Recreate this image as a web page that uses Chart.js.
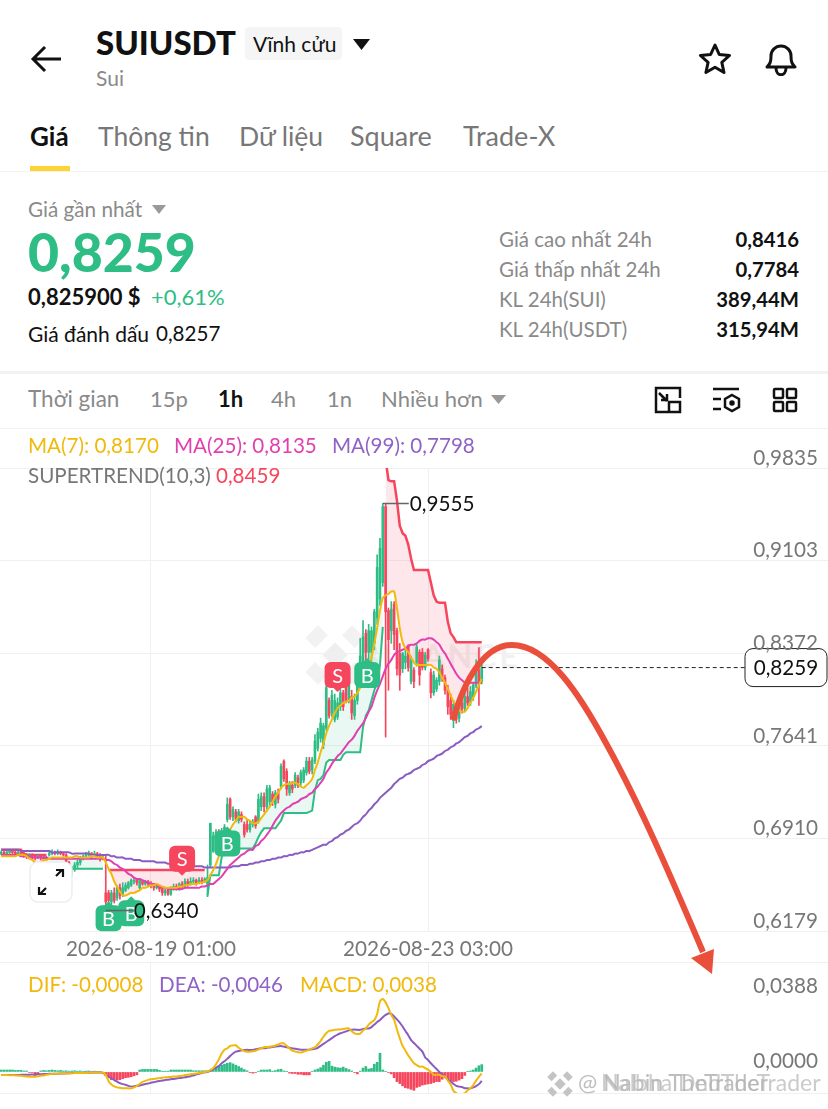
<!DOCTYPE html>
<html lang="vi">
<head>
<meta charset="utf-8">
<title>SUIUSDT</title>
<script src="https://cdn.jsdelivr.net/npm/chart.js@4"></script>
<style>
html, body { margin: 0; padding: 0; background: #fff; }
body { position: relative; width: 828px; height: 1109px; overflow: hidden; font-family: Lato, "Noto Sans", sans-serif; color: #111; }
.t { position: absolute; white-space: nowrap; line-height: 1; transform: translateY(-54%); }
.g { color: #8a8a8a; }
.r { right: 29px; font-weight: 700; font-size: 20.300px; color: #111; }
.line { position: absolute; left: 0; width: 828px; background: #f2f2f2; }
canvas { position: absolute; left: 0; }
svg { position: absolute; }
</style>
</head>
<body>

<!-- watermark under the chart -->
<svg style="left:300px;top:620px" width="70" height="70"><g fill="#efefef" transform="rotate(45 35 35)"><rect x="26" y="26" width="18" height="18"/><rect x="2" y="26" width="14" height="18" opacity=".8"/><rect x="54" y="26" width="14" height="18" opacity=".8"/><rect x="26" y="2" width="18" height="14" opacity=".8"/><rect x="26" y="54" width="18" height="14" opacity=".8"/></g></svg>
<div class="t" style="left:358px;top:657px;font-size:32px;font-weight:700;color:#f1f1f1;letter-spacing:3px">BINANCE</div>

<canvas id="priceChart" width="828" height="530" style="top:440px"></canvas>
<canvas id="macdChart" width="828" height="137" style="top:959px"></canvas>

<!-- header -->
<svg style="left:30px;top:44px" width="34" height="30" fill="none" stroke="#111" stroke-width="3"><path d="M31 15H4M15 3L3 15l12 12"/></svg>
<div class="t" style="left:96px;top:44px;font-size:33px;font-weight:900">SUIUSDT</div>
<div style="position:absolute;left:245px;top:27px;width:97px;height:33px;background:#f5f5f5;border-radius:4px"></div>
<div class="t" style="left:253px;top:44px;font-size:21px">Vĩnh cửu</div>
<svg style="left:352px;top:38px" width="20" height="13"><path d="M1 1h17l-8.500 11z" fill="#111"/></svg>
<div class="t g" style="left:96px;top:78px;font-size:21px">Sui</div>
<svg style="left:698px;top:42px" width="34" height="34" fill="none" stroke="#111" stroke-width="3" stroke-linejoin="round"><path d="M17 3l4.200 9.400 10.300 1.100-7.700 6.900 2.200 10.100L17 25.300 7.900 30.500l2.200-10.100-7.700-6.900 10.300-1.100z"/></svg>
<svg style="left:764px;top:42px" width="34" height="34" fill="none" stroke="#111" stroke-width="3" stroke-linejoin="round"><path d="M3 25c3-3 4-5 4-11a10 10 0 0 1 20 0c0 6 1 8 4 11zM12 26c0 9 10 9 10 0"/></svg>

<div class="t" style="left:30px;top:137px;font-size:26px;font-weight:700">Giá</div>
<div class="t g" style="left:98px;top:137px;font-size:26.500px;color:#777">Thông tin</div>
<div class="t g" style="left:239px;top:137px;font-size:26.500px;color:#777">Dữ liệu</div>
<div class="t g" style="left:350px;top:137px;font-size:27px;color:#777">Square</div>
<div class="t g" style="left:463px;top:137px;font-size:27px;color:#777">Trade-X</div>
<div style="position:absolute;left:30px;top:166px;width:40px;height:5px;background:#fcd535"></div>
<div class="line" style="top:171px;height:1px"></div>

<!-- price block -->
<div class="t g" style="left:28px;top:210px;font-size:20.700px">Giá gần nhất</div>
<svg style="left:152px;top:205px" width="14" height="10"><path d="M0 0h14l-7 9z" fill="#999"/></svg>
<div class="t" style="left:28px;top:254px;font-size:53.500px;font-weight:900;color:#2ebd85">0,8259</div>
<div class="t" style="left:28px;top:298px;font-size:22px;font-weight:700">0,825900 $</div>
<div class="t" style="left:151px;top:298px;font-size:22px;color:#2ebd85">+0,61%</div>
<div class="t" style="left:28px;top:334px;font-size:21px">Giá đánh dấu</div>
<div class="t" style="left:156px;top:334px;font-size:20.600px">0,8257</div>
<div class="t g" style="left:499px;top:240px;font-size:20.500px">Giá cao nhất 24h</div>
<div class="t g" style="left:499px;top:270px;font-size:20.500px">Giá thấp nhất 24h</div>
<div class="t g" style="left:499px;top:300px;font-size:20.500px">KL 24h(SUI)</div>
<div class="t g" style="left:499px;top:330px;font-size:20.500px">KL 24h(USDT)</div>
<div class="t r" style="top:240px">0,8416</div>
<div class="t r" style="top:270px">0,7784</div>
<div class="t r" style="top:300px">389,44M</div>
<div class="t r" style="top:330px">315,94M</div>
<div class="line" style="top:371px;height:3px"></div>

<!-- interval row -->
<div class="t g" style="left:28px;top:400px;font-size:22.500px">Thời gian</div>
<div class="t g" style="left:150px;top:400px;font-size:22px">15p</div>
<div class="t" style="left:218px;top:400px;font-size:22px;font-weight:700">1h</div>
<div class="t g" style="left:271px;top:400px;font-size:22px">4h</div>
<div class="t g" style="left:327px;top:400px;font-size:22px">1n</div>
<div class="t g" style="left:381px;top:400px;font-size:22px">Nhiều hơn</div>
<svg style="left:491px;top:395px" width="15" height="10"><path d="M0 0h15l-7.500 9z" fill="#999"/></svg>
<svg style="left:654px;top:386px" width="28" height="28" fill="none" stroke="#111" stroke-width="2.500"><path d="M14 2H2v24h12M14 2h12v10M5 7l8 8M7 14h6V8"/><rect x="15" y="16" width="11" height="10"/></svg>
<svg style="left:712px;top:387px" width="30" height="28" fill="none" stroke="#111" stroke-width="2.500"><path d="M1 2h26M1 12h8M1 22h8M20 8l7 4v8l-7 4-7-4v-8z"/><circle cx="20" cy="16" r="1.500" fill="#111"/></svg>
<svg style="left:772px;top:387px" width="26" height="26" fill="none" stroke="#111" stroke-width="2.500"><rect x="2" y="2" width="9" height="9" rx="1"/><rect x="15" y="2" width="9" height="9" rx="1"/><rect x="2" y="15" width="9" height="9" rx="1"/><rect x="15" y="15" width="9" height="9" rx="1"/></svg>
<div class="line" style="top:428px;height:1px"></div>

<!-- indicator legends -->
<div class="t" style="left:28px;top:446px;font-size:20.600px;color:#f0b90b">MA(7): 0,8170</div>
<div class="t" style="left:174px;top:446px;font-size:20.600px;color:#e23fb0">MA(25): 0,8135</div>
<div class="t" style="left:332px;top:446px;font-size:20.600px;color:#8f63c6">MA(99): 0,7798</div>
<div class="t g" style="left:28px;top:476px;font-size:20.600px;color:#777">SUPERTREND(10,3)</div>
<div class="t" style="left:216px;top:476px;font-size:20.600px;color:#f6465d">0,8459</div>
<div class="t" style="left:28px;top:985px;font-size:20.600px;color:#f0b90b">DIF: -0,0008</div>
<div class="t" style="left:159px;top:985px;font-size:20.600px;color:#8f63c6">DEA: -0,0046</div>
<div class="t" style="left:300px;top:985px;font-size:20.600px;color:#f0b90b">MACD: 0,0038</div>

<!-- expand button -->
<svg style="left:29px;top:861px" width="44" height="42"><rect x="1" y="1" width="42" height="40" rx="8" fill="#fff" stroke="#eee" stroke-width="1.500"/><path d="M27 15l6-6M27 9h7v7M17 27l-6 6M10 26v7h7" fill="none" stroke="#111" stroke-width="2.200"/></svg>

<!-- bottom right watermark -->
<svg style="left:544px;top:1068px" width="32" height="32"><g fill="#c4c4c4" transform="rotate(45 16 16)"><rect x="12" y="12" width="8" height="8"/><rect x="2" y="12" width="6" height="8"/><rect x="24" y="12" width="6" height="8"/><rect x="12" y="2" width="8" height="6"/><rect x="12" y="24" width="8" height="6"/></g></svg>
<div class="t" style="left:578px;top:1083px;font-size:23px;color:#a9a9a9;opacity:.75">@ Nabin TheTrader</div>
<div class="t" style="left:601px;top:1083px;font-size:23px;color:#b5b5b5;opacity:.7">Nalbha DndTheTrader</div>

<!-- hand drawn arrow over the picture -->
<svg style="left:0;top:0;z-index:5" width="828" height="1109"><path d="M453 720C465 678 485 645 512 645C548 645 580 695 607 745C640 805 668 870 703 952" fill="none" stroke="#ea4f3c" stroke-width="6"/><path d="M691 958L714 949L712 974z" fill="#ea4f3c"/></svg>

<script>
// x scale is candle index, one candle per hour
const timeTicks = [53, 151];
const timeLabels = ['2026-08-19 01:00', '2026-08-23 03:00'];
const priceTicks = [0.6179, 0.6910, 0.7641, 0.8372, 0.9103, 0.9835];
const macdTicks = [0.0388, 0];
const lastPrice = 0.8259;

const opens = [
  .679,.680,.679,.680,.681,.680,.679,.680,.679,.678,
  .677,.678,.677,.676,.677,.676,.675,.678,.679,.680,
  .679,.680,.679,.678,.672,.666,.667,.670,.672,.675,
  .677,.678,.679,.678,.679,.678,.675,.648,.648,.641,
  .648,.644,.652,.647,.650,.652,.654,.657,.658,.652,
  .657,.655,.657,.655,.654,.652,.653,.651,.648,.650,
  .647,.651,.653,.651,.655,.653,.657,.655,.657,.658,
  .656,.658,.657,.655,.670,.681,.690,.696,.690,.697,
  .706,.722,.708,.712,.705,.710,.702,.702,.698,.702,
  .708,.705,.716,.724,.716,.720,.726,.718,.727,.732,
  .752,.744,.727,.733,.733,.739,.735,.737,.743,.752,
  .745,.752,.762,.770,.765,.778,.800,.790,.785,.787,
  .795,.806,.812,.800,.803,.788,.800,.818,.815,.853,
  .838,.838,.845,.865,.880,.893,.953,.871,.855,.876,
  .855,.837,.825,.830,.843,.815,.824,.830,.838,.838,
  .826,.840,.822,.806,.809,.815,.825,.818,.809,.800,
  .784,.792,.786,.798,.794,.803,.799,.803,.812,.824,
  .815];
const closes = [
  .680,.679,.680,.681,.680,.679,.680,.679,.678,.677,
  .678,.677,.676,.677,.676,.675,.676,.679,.680,.679,
  .680,.679,.678,.672,.666,.667,.670,.672,.675,.677,
  .678,.679,.678,.679,.678,.675,.676,.641,.642,.648,
  .642,.652,.646,.652,.654,.656,.658,.658,.656,.658,
  .655,.657,.655,.654,.652,.653,.651,.648,.650,.647,
  .651,.653,.651,.655,.653,.657,.655,.657,.658,.656,
  .658,.657,.659,.660,.703,.693,.696,.690,.697,.700,
  .718,.708,.714,.706,.712,.706,.694,.698,.702,.704,
  .701,.722,.724,.716,.730,.731,.720,.727,.722,.748,
  .738,.730,.734,.730,.741,.733,.743,.745,.752,.744,
  .753,.768,.775,.782,.780,.810,.788,.804,.800,.798,
  .806,.795,.800,.815,.790,.800,.813,.835,.850,.838,
  .855,.855,.870,.905,.920,.953,.870,.848,.872,.852,
  .825,.820,.837,.835,.826,.832,.815,.842,.820,.826,
  .836,.833,.806,.820,.816,.832,.818,.808,.795,.789,
  .797,.785,.798,.793,.803,.798,.807,.812,.826,.815,
  .8259];
const highs = [
  .681,.681,.681,.682,.682,.681,.681,.681,.680,.679,
  .679,.679,.678,.678,.678,.677,.677,.680,.682,.681,
  .682,.681,.680,.679,.673,.669,.672,.674,.677,.678,
  .680,.681,.680,.681,.680,.679,.677,.678,.650,.650,
  .652,.654,.655,.656,.656,.657,.659,.660,.659,.659,
  .658,.658,.658,.657,.655,.654,.654,.653,.652,.651,
  .653,.655,.655,.656,.657,.659,.659,.660,.660,.659,
  .660,.660,.660,.670,.703,.696,.698,.698,.699,.702,
  .723,.723,.716,.714,.714,.712,.704,.706,.705,.706,
  .709,.726,.727,.727,.733,.733,.728,.729,.730,.750,
  .753,.746,.736,.736,.743,.741,.745,.747,.755,.755,
  .755,.773,.778,.786,.782,.813,.802,.808,.805,.802,
  .810,.808,.814,.817,.808,.805,.815,.849,.863,.856,
  .860,.858,.872,.915,.928,.9555,.955,.873,.878,.878,
  .857,.845,.838,.840,.844,.835,.826,.844,.840,.841,
  .838,.841,.825,.823,.818,.835,.828,.820,.812,.805,
  .800,.794,.802,.803,.806,.810,.811,.814,.832,.8416,
  .829];
const lows = [
  .678,.678,.678,.679,.679,.678,.678,.677,.676,.675,
  .676,.675,.674,.675,.674,.673,.674,.677,.678,.678,
  .678,.678,.677,.671,.664,.662,.665,.668,.670,.674,
  .676,.677,.676,.677,.676,.673,.674,.634,.640,.639,
  .640,.642,.643,.645,.649,.651,.653,.655,.654,.651,
  .654,.654,.653,.652,.650,.651,.649,.646,.646,.646,
  .646,.650,.650,.650,.652,.652,.653,.654,.655,.654,
  .655,.655,.656,.645,.668,.680,.688,.688,.688,.695,
  .704,.706,.705,.704,.703,.704,.692,.696,.696,.700,
  .699,.703,.713,.712,.714,.717,.717,.715,.719,.730,
  .736,.725,.725,.727,.731,.731,.733,.735,.741,.742,
  .742,.750,.760,.767,.762,.776,.786,.787,.783,.785,
  .792,.792,.798,.798,.785,.785,.797,.815,.812,.832,
  .825,.830,.840,.860,.875,.890,.771,.808,.845,.840,
  .820,.808,.822,.825,.823,.813,.810,.827,.812,.824,
  .824,.831,.802,.804,.807,.812,.815,.805,.789,.785,
  .7784,.782,.783,.790,.791,.796,.796,.800,.810,.796,
  .813];

const ma7 = [
  .677,.677,.677,.677,.677,.677,.678,.678,.678,.677,
  .675,.674,.672,.671,.672,.674,.674,.675,.676,.676,
  .676,.676,.676,.676,.676,.676,.677,.677,.676,.676,
  .676,.676,.677,.677,.676,.676,.676,.672,.667,.663,
  .657,.653,.649,.646,.646,.647,.648,.648,.649,.650,
  .652,.652,.653,.654,.654,.655,.654,.653,.652,.652,
  .652,.652,.652,.653,.653,.654,.654,.655,.655,.655,
  .656,.656,.657,.658,.662,.666,.671,.677,.683,.690,
  .694,.698,.702,.705,.708,.708,.708,.706,.705,.703,
  .703,.704,.707,.710,.713,.716,.720,.724,.727,.731,
  .733,.734,.734,.735,.735,.734,.732,.731,.733,.735,
  .738,.745,.751,.759,.766,.774,.780,.785,.790,.794,
  .796,.798,.799,.800,.802,.803,.806,.810,.814,.819,
  .826,.834,.845,.857,.871,.881,.883,.884,.886,.886,
  .873,.857,.846,.841,.838,.834,.830,.828,.828,.828,
  .828,.828,.828,.826,.825,.822,.818,.814,.809,.804,
  .799,.795,.792,.791,.791,.794,.798,.802,.807,.812,
  .817];
const ma25 = [
  .678,.678,.678,.678,.678,.678,.678,.677,.677,.677,
  .677,.676,.676,.676,.676,.676,.676,.675,.675,.675,
  .675,.675,.675,.675,.675,.675,.675,.675,.675,.675,
  .675,.675,.675,.675,.675,.675,.675,.674,.674,.673,
  .671,.670,.668,.667,.665,.663,.662,.660,.659,.659,
  .658,.657,.656,.655,.655,.654,.653,.652,.652,.651,
  .651,.651,.651,.651,.651,.652,.652,.652,.652,.652,
  .652,.653,.653,.654,.655,.655,.657,.659,.661,.664,
  .667,.670,.672,.674,.676,.678,.679,.681,.682,.682,
  .685,.686,.689,.691,.694,.697,.701,.705,.708,.711,
  .713,.715,.716,.718,.719,.720,.722,.723,.724,.726,
  .727,.730,.732,.735,.738,.743,.746,.750,.753,.756,
  .758,.761,.764,.767,.769,.772,.776,.779,.782,.786,
  .791,.795,.802,.808,.813,.819,.825,.829,.832,.836,
  .838,.839,.840,.841,.843,.844,.844,.845,.847,.848,
  .848,.849,.849,.848,.846,.844,.840,.837,.833,.829,
  .825,.821,.818,.816,.814,.814,.814,.814,.814,.814,
  .8135];
const ma99 = [
  .682,.682,.682,.682,.682,.682,.682,.681,.681,.681,
  .681,.681,.681,.681,.681,.681,.681,.681,.680,.680,
  .680,.680,.680,.680,.680,.679,.679,.679,.679,.679,
  .679,.679,.678,.678,.678,.678,.678,.678,.678,.677,
  .677,.676,.676,.676,.675,.675,.675,.674,.674,.674,
  .673,.673,.673,.673,.673,.672,.672,.672,.672,.671,
  .671,.671,.671,.671,.671,.670,.670,.670,.669,.669,
  .669,.669,.668,.668,.668,.668,.668,.668,.668,.668,
  .668,.668,.669,.669,.669,.670,.670,.670,.671,.671,
  .672,.672,.673,.673,.674,.674,.675,.675,.676,.676,
  .677,.677,.678,.678,.679,.679,.680,.680,.681,.681,
  .682,.683,.684,.685,.686,.686,.688,.689,.691,.692,
  .694,.695,.697,.698,.700,.702,.703,.705,.708,.710,
  .713,.715,.718,.720,.723,.725,.727,.729,.731,.734,
  .736,.738,.739,.741,.742,.743,.745,.746,.747,.749,
  .750,.752,.753,.754,.756,.757,.758,.760,.761,.763,
  .764,.766,.767,.769,.771,.772,.774,.775,.777,.778,
  .7798];
const trendUp = [
  null,null,null,null,null,null,null,null,null,null,
  null,null,null,null,null,null,null,.667,.667,.667,
  .667,.667,.667,.667,.667,.667,.667,.667,.667,.667,
  .667,.667,.667,.667,.667,.667,.667,null,null,null,
  null,null,null,null,null,null,null,null,null,null,
  null,null,null,null,null,null,null,null,null,null,
  null,null,null,null,null,null,null,null,null,null,
  null,null,null,.646,.662,.662,.662,.662,.676,.682,
  .683,.683,.683,.683,.683,.683,.683,.683,.683,.683,
  .687,.692,.696,.699,.699,.699,.699,.699,.702,.705,
  .711,.711,.711,.711,.711,.711,.711,.711,.711,.712,
  .713,.729,.737,.738,.741,.751,.753,.753,.753,.753,
  .753,.757,.759,.759,.759,.759,.759,.759,.779,.788,
  .792,.800,.808,.814,.828,.858,null,null,null,null,
  null,null,null,null,null,null,null,null,null,null,
  null,null,null,null,null,null,null,null,null,null,
  null,null,null,null,null,null,null,null,null,null,
  null];
const trendDown = [
  .682,.682,.682,.682,.682,.682,.682,.682,.679,.678,
  .678,.678,.678,.678,.678,.678,.678,null,null,null,
  null,null,null,null,null,null,null,null,null,null,
  null,null,null,null,null,null,null,null,.666,.666,
  .666,.666,.666,.666,.666,.666,.666,.666,.666,.666,
  .666,.666,.666,.666,.666,.666,.666,.666,.666,.666,
  .666,.666,.666,.666,.666,.666,.666,.666,.666,.666,
  .666,.666,.666,null,null,null,null,null,null,null,
  null,null,null,null,null,null,null,null,null,null,
  null,null,null,null,null,null,null,null,null,null,
  null,null,null,null,null,null,null,null,null,null,
  null,null,null,null,null,null,null,null,null,null,
  null,null,null,null,null,null,null,null,null,null,
  null,null,null,null,null,null,.990,.974,.973,.973,
  .958,.938,.932,.930,.923,.912,.903,.903,.903,.903,
  .903,.903,.893,.883,.878,.877,.877,.877,.862,.853,
  .850,.846,.846,.846,.846,.846,.846,.846,.846,.846,
  .8459];

const dif = [
  -.0016,-.0016,-.0016,-.0017,-.0017,-.0018,-.0019,-.0020,-.0022,-.0024,
  -.0025,-.0025,-.0025,-.0023,-.0020,-.0018,-.0015,-.0012,-.0010,-.0009,
  -.0009,-.0009,-.0008,-.0008,-.0007,-.0007,-.0006,-.0006,-.0005,-.0005,
  -.0005,-.0004,-.0004,-.0003,-.0003,-.0003,-.0003,-.0015,-.0048,-.0065,
  -.0075,-.0080,-.0082,-.0084,-.0085,-.0085,-.0085,-.0080,-.0072,-.0062,
  -.0052,-.0046,-.0041,-.0038,-.0036,-.0034,-.0032,-.0030,-.0028,-.0027,
  -.0026,-.0024,-.0023,-.0021,-.0020,-.0016,-.0014,-.0012,-.0010,-.0008,
  -.0005,-.0003,.0000,.0002,.0010,.0020,.0040,.0065,.0095,.0115,
  .0122,.0135,.0137,.0138,.0125,.0115,.0108,.0105,.0105,.0107,
  .0110,.0116,.0122,.0128,.0129,.0130,.0133,.0137,.0142,.0148,
  .0148,.0135,.0122,.0110,.0105,.0102,.0100,.0105,.0110,.0115,
  .0122,.0128,.0142,.0160,.0182,.0200,.0212,.0215,.0218,.0220,
  .0220,.0222,.0225,.0225,.0210,.0200,.0196,.0198,.0215,.0225,
  .0245,.0258,.0268,.0300,.0365,.0378,.0360,.0330,.0295,.0270,
  .0220,.0175,.0135,.0110,.0085,.0065,.0045,.0035,.0027,.0028,
  .0020,.0012,.0000,-.0015,-.0015,-.0015,-.0022,-.0024,-.0045,-.0065,
  -.0098,-.0110,-.0115,-.0115,-.0110,-.0095,-.0085,-.0068,-.0045,-.0025,
  -.0008];
const dea = [
  -.0016,-.0016,-.0016,-.0016,-.0016,-.0016,-.0016,-.0015,-.0015,-.0014,
  -.0014,-.0013,-.0013,-.0012,-.0012,-.0011,-.0011,-.0010,-.0010,-.0009,
  -.0009,-.0008,-.0008,-.0007,-.0007,-.0006,-.0006,-.0005,-.0005,-.0005,
  -.0004,-.0004,-.0004,-.0003,-.0003,-.0003,-.0005,-.0015,-.0025,-.0033,
  -.0042,-.0050,-.0058,-.0063,-.0066,-.0072,-.0076,-.0074,-.0072,-.0070,
  -.0066,-.0062,-.0060,-.0056,-.0053,-.0050,-.0047,-.0044,-.0042,-.0040,
  -.0038,-.0036,-.0034,-.0032,-.0030,-.0028,-.0025,-.0022,-.0018,-.0014,
  -.0009,-.0005,-.0002,.0000,.0005,.0015,.0022,.0030,.0045,.0055,
  .0068,.0082,.0095,.0105,.0108,.0112,.0113,.0115,.0113,.0114,
  .0117,.0120,.0122,.0123,.0125,.0127,.0129,.0131,.0133,.0134,
  .0131,.0128,.0125,.0122,.0120,.0117,.0115,.0115,.0115,.0115,
  .0117,.0120,.0125,.0135,.0145,.0155,.0165,.0175,.0185,.0193,
  .0200,.0205,.0210,.0215,.0218,.0220,.0218,.0218,.0222,.0225,
  .0225,.0232,.0245,.0258,.0269,.0283,.0295,.0303,.0300,.0287,
  .0272,.0255,.0235,.0212,.0190,.0165,.0150,.0135,.0120,.0105,
  .0075,.0062,.0045,.0030,.0015,.0000,-.0012,-.0026,-.0038,-.0050,
  -.0062,-.0072,-.0076,-.0078,-.0084,-.0085,-.0085,-.0080,-.0073,-.0063,
  -.0046];
const macdBars = [
  .0010,.0010,.0010,.0010,.0010,.0008,.0008,.0008,.0005,.0005,
  -.0003,-.0003,-.0020,-.0010,.0005,.0008,.0006,.0008,.0010,.0008,
  .0006,.0008,.0005,.0006,.0004,.0005,.0006,.0004,.0005,.0003,
  .0004,.0005,.0003,.0004,.0003,.0002,-.0005,-.0020,-.0030,-.0040,
  -.0040,-.0042,-.0040,-.0035,-.0030,-.0028,-.0025,-.0020,-.0015,.0010,
  .0013,.0013,.0013,.0013,.0013,.0013,.0008,.0004,.0004,.0004,
  .0010,.0010,.0010,.0010,.0010,.0010,.0010,.0010,.0006,.0006,
  .0006,.0006,.0006,.0006,.0010,.0015,.0025,.0032,.0035,.0040,
  .0045,.0048,.0042,.0035,.0028,.0020,.0012,.0006,-.0002,-.0006,
  -.0003,.0003,.0010,.0010,.0010,.0012,.0004,.0007,.0012,.0014,
  .0005,.0002,-.0006,-.0008,-.0008,-.0012,-.0012,-.0015,-.0015,-.0015,
  .0002,.0010,.0015,.0022,.0035,.0050,.0055,.0030,.0025,.0022,
  .0020,.0025,.0018,.0012,.0005,-.0002,-.0010,.0004,.0020,.0028,
  .0015,.0018,.0040,.0050,.0097,.0010,.0003,-.0002,-.0010,-.0030,
  -.0050,-.0060,-.0072,-.0082,-.0085,-.0090,-.0095,-.0080,-.0075,-.0068,
  -.0065,-.0062,-.0060,-.0055,-.0050,-.0050,-.0038,-.0028,-.0035,-.0045,
  -.0050,-.0048,-.0042,-.0035,-.0018,.0002,.0005,.0010,.0020,.0032,
  .0038];

// buy / sell tags on the chart
const tagTypes = ['B', 'B', 'S', 'B', 'S', 'B'];
const tagIndex = [38, 46, 64, 80, 119, 129.5];
const tagPrice = [.628, .632, .675, .687, .820, .820];

const green = '#2ebd85', red = '#f6465d', gridColor = '#f0f0f0', axisText = '#777';
const orange = '#f0b90b', pink = '#e23fb0', purple = '#8a5cc2';
const xMin = -0.41, xMax = 292.48;

function points(list) { return list.map((v, i) => ({ x: i, y: v })); }
function comma(v, n) { return v.toFixed(n).replace('.', ','); }
function lineSet(list, color, width, extra) {
  return Object.assign({ type: 'line', data: points(list), borderColor: color, borderWidth: width, pointRadius: 0, tension: 0.25, fill: false, order: 1 }, extra || {});
}

const candleColors = opens.map((o, i) => closes[i] >= o ? green : red);
const axisFont = { family: 'Lato', size: 20.7 };

// things the library has no mark for: tags, high/low labels, last price line
const priceOverlay = {
  id: 'priceOverlay',
  afterDatasetsDraw(chart) {
    const c = chart.ctx, sx = chart.scales.x, sy = chart.scales.y;
    c.save();
    c.textAlign = 'center';
    c.textBaseline = 'middle';
    tagTypes.forEach((type, k) => {
      const x = sx.getPixelForValue(tagIndex[k]), y = sy.getPixelForValue(tagPrice[k]);
      c.fillStyle = type == 'S' ? red : green;
      c.beginPath();
      c.roundRect(x - 13, y - 13, 26, 26, 6);
      c.fill();
      c.beginPath();
      if (type == 'S') { c.moveTo(x - 5, y + 12); c.lineTo(x, y + 17); c.lineTo(x + 5, y + 12); }
      else { c.moveTo(x - 5, y - 12); c.lineTo(x, y - 17); c.lineTo(x + 5, y - 12); }
      c.fill();
      c.fillStyle = '#fff';
      c.font = '20px Lato';
      c.fillText(type, x, y + 1);
    });

    // highest and lowest candle
    const hi = highs.indexOf(Math.max(...highs)), lo = lows.indexOf(Math.min(...lows));
    const hx = sx.getPixelForValue(hi), hy = sy.getPixelForValue(highs[hi]);
    const lx = sx.getPixelForValue(lo), ly = sy.getPixelForValue(lows[lo]);
    c.strokeStyle = '#666';
    c.lineWidth = 1.5;
    c.beginPath();
    c.moveTo(hx, hy); c.lineTo(hx + 26, hy);
    c.moveTo(lx, ly); c.lineTo(lx + 27, ly);
    c.stroke();
    c.fillStyle = '#111';
    c.font = '20.7px Lato';
    c.textAlign = 'left';
    c.fillText(comma(highs[hi], 4), hx + 27, hy + 1);
    c.fillText(comma(lows[lo], 4), lx + 28, ly + 1);

    // last price
    const py = sy.getPixelForValue(lastPrice), px = sx.getPixelForValue(closes.length - 1);
    c.strokeStyle = '#222';
    c.lineWidth = 1;
    c.setLineDash([4, 3]);
    c.beginPath();
    c.moveTo(px, py); c.lineTo(745, py);
    c.stroke();
    c.setLineDash([]);
    c.fillStyle = '#fff';
    c.beginPath();
    c.roundRect(745, py - 19, 82, 38, 8);
    c.fill();
    c.stroke();
    c.fillStyle = '#111';
    c.textAlign = 'center';
    c.fillText(comma(lastPrice, 4), 786, py + 1);
    c.restore();
  }
};

new Chart(document.getElementById('priceChart'), {
  type: 'bar',
  data: {
    datasets: [
      lineSet(ma7, orange, 2),
      lineSet(ma25, pink, 2),
      lineSet(ma99, purple, 2),
      lineSet(trendUp, green, 2, { tension: 0, fill: { target: 0 }, backgroundColor: 'rgba(46,189,133,0.10)', order: 5 }),
      lineSet(trendDown, red, 2.5, { tension: 0, fill: { target: 0 }, backgroundColor: 'rgba(246,70,93,0.13)', order: 5 }),
      { data: lows.map((l, i) => ({ x: i, y: [l, highs[i]] })), backgroundColor: candleColors, barThickness: 1, grouped: false, order: 3 },
      { data: opens.map((o, i) => ({ x: i, y: [Math.min(o, closes[i]), Math.max(o, closes[i])] })), backgroundColor: candleColors, barThickness: 2, minBarLength: 1, grouped: false, order: 3 }
    ]
  },
  options: {
    responsive: false,
    animation: false,
    layout: { autoPadding: false, padding: { top: 28, left: 0, right: 0, bottom: 0 } },
    plugins: { legend: { display: false }, tooltip: { enabled: false }, filler: { propagate: false } },
    scales: {
      x: {
        type: 'linear', min: xMin, max: xMax, offset: false,
        border: { display: false },
        grid: { color: gridColor, drawTicks: false, offset: false },
        afterBuildTicks: s => { s.ticks = timeTicks.map(v => ({ value: v })); },
        afterFit: s => { s.height = 39; },
        ticks: {
          color: axisText, font: axisFont, padding: 6, maxRotation: 0, autoSkip: false,
          callback: v => timeLabels[timeTicks.indexOf(v)]
        }
      },
      y: {
        position: 'right', min: 0.6179, max: 0.9835,
        border: { display: false },
        grid: { color: gridColor, drawTicks: false },
        afterBuildTicks: s => { s.ticks = priceTicks.map(v => ({ value: v })); },
        afterFit: s => { s.width = 0; },
        ticks: {
          // width is forced to 0, so the mirrored labels need a negative padding to stay inside
          mirror: true, color: axisText, font: axisFont, padding: -10, labelOffset: -10, z: 1,
          callback: v => comma(v, 4)
        }
      }
    }
  },
  plugins: [priceOverlay]
});

const macdMin = -0.0109, macdMax = 0.0569;
new Chart(document.getElementById('macdChart'), {
  type: 'bar',
  data: {
    datasets: [
      { data: points(macdBars), backgroundColor: macdBars.map(v => v >= 0 ? green : red), barThickness: 2, order: 3 },
      lineSet(dif, orange, 2),
      lineSet(dea, purple, 2)
    ]
  },
  options: {
    responsive: false,
    animation: false,
    layout: { autoPadding: false, padding: { top: 3, bottom: 3, left: 0, right: 0 } },
    plugins: { legend: { display: false }, tooltip: { enabled: false } },
    scales: {
      x: {
        type: 'linear', min: xMin, max: xMax, offset: false,
        border: { display: false },
        grid: { color: gridColor, drawTicks: false, offset: false },
        afterBuildTicks: s => { s.ticks = timeTicks.map(v => ({ value: v })); },
        afterFit: s => { s.height = 0; },
        ticks: { display: false }
      },
      y: {
        position: 'right', min: macdMin, max: macdMax,
        border: { display: false },
        grid: { drawTicks: false, color: c => macdTicks.includes(c.tick.value) ? 'transparent' : gridColor },
        afterBuildTicks: s => { s.ticks = [macdMin, 0, 0.0388, macdMax].map(v => ({ value: v })); },
        afterFit: s => { s.width = 0; },
        ticks: {
          mirror: true, color: axisText, font: axisFont, padding: -10, labelOffset: -11, z: 1,
          callback: v => macdTicks.includes(v) ? comma(v, 4) : ''
        }
      }
    }
  }
});
</script>
</body>
</html>
